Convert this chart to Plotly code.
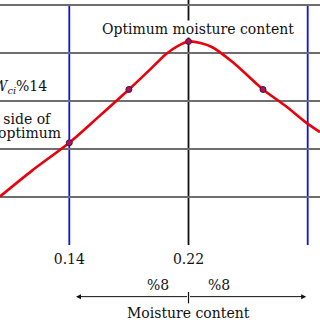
import plotly.graph_objects as go

# curve (moisture content vs. value, arbitrary units)
curve_x = [0.0935, 0.115, 0.14, 0.16, 0.18, 0.195, 0.205, 0.213, 0.22, 0.228, 0.236, 0.25, 0.27, 0.285, 0.299, 0.3083]
curve_y = [1.01, 1.55, 2.13, 2.68, 3.24, 3.68, 3.98, 4.15, 4.24, 4.21, 4.12, 3.8, 3.24, 2.9, 2.55, 2.35]
marker_x = [0.14, 0.18, 0.22, 0.27]
marker_y = [2.13, 3.24, 4.24, 3.24]
grid_y = [0, 1, 2, 3, 4, 5]
blue_x = [0.14, 0.30]
opt_x = 0.22
tick_vals = [0.14, 0.22, 0.30]
tick_text = ["0.14", "0.22", "0.30"]

SERIF = "DejaVu Serif"

fig = go.Figure()
fig.add_trace(go.Scatter(x=curve_x, y=curve_y, mode="lines",
                         line=dict(color="#e8000b", width=2.6, shape="spline", smoothing=0.8),
                         hoverinfo="skip", showlegend=False))
fig.add_trace(go.Scatter(x=marker_x, y=marker_y, mode="markers",
                         marker=dict(color="#a01a5a", size=6, line=dict(color="#5a0a3a", width=1)),
                         showlegend=False))

for bx in blue_x:
    fig.add_shape(type="line", x0=bx, x1=bx, y0=0, y1=5.0, xref="x", yref="y",
                  line=dict(color="#1010e0", width=1.8), layer="below")
fig.add_shape(type="line", x0=opt_x, x1=opt_x, y0=0, y1=5.2, xref="x", yref="y",
              line=dict(color="#111111", width=1.8), layer="below")

# bottom arrow line
arrow_y = 0.073
for end_x in [0.1445, 0.2990]:
    fig.add_annotation(x=end_x, y=arrow_y, ax=opt_x, ay=0, xref="x", yref="paper",
                       axref="x", ayref="pixel", showarrow=True, arrowhead=2, arrowsize=1,
                       arrowwidth=1, arrowcolor="#111", text="")
fig.add_shape(type="line", x0=opt_x, x1=opt_x, y0=0.052, y1=0.0875, xref="x", yref="paper",
              line=dict(color="#111", width=1.2))

font = dict(family=SERIF, size=14, color="#111")
fig.add_annotation(x=0.2265, y=4.5, xref="x", yref="y", text="Optimum moisture content",
                   showarrow=False, font=font, bgcolor="white", borderpad=0)
fig.add_annotation(x=0.1265, y=3.29, xref="x", yref="y", text="<i>W<sub>ci</sub></i>%14",
                   showarrow=False, font=font, xanchor="right")
fig.add_annotation(x=0.1300, y=2.62, xref="x", yref="y", text="Dry side of",
                   showarrow=False, font=font, xanchor="right")
fig.add_annotation(x=0.1356, y=2.33, xref="x", yref="y", text="optimum",
                   showarrow=False, font=font, xanchor="right")
fig.add_annotation(x=0.1995, y=0.109, xref="x", yref="paper", text="%8",
                   showarrow=False, font=font, yanchor="middle")
fig.add_annotation(x=0.2405, y=0.109, xref="x", yref="paper", text="%8",
                   showarrow=False, font=font, yanchor="middle")
fig.add_annotation(x=opt_x, y=0.022, xref="x", yref="paper", text="Moisture content",
                   showarrow=False, font=font, yanchor="middle")

fig.update_layout(
    width=320, height=320, margin=dict(l=0, r=0, t=0, b=0),
    paper_bgcolor="white", plot_bgcolor="white",
    xaxis=dict(range=[0.09349, 0.30826], tickvals=tick_vals, ticktext=tick_text,
               showgrid=False, zeroline=False, showline=False, ticks="",
               ticklabelstandoff=3,
               tickfont=dict(family=SERIF, size=14, color="#111")),
    yaxis=dict(domain=[0.23125, 1], range=[-0.0208, 5.104], tickvals=grid_y,
               showticklabels=False, showgrid=True, gridcolor="#6e6e6e", gridwidth=2,
               zeroline=False, showline=False),
)
fig.write_html("out.html")
